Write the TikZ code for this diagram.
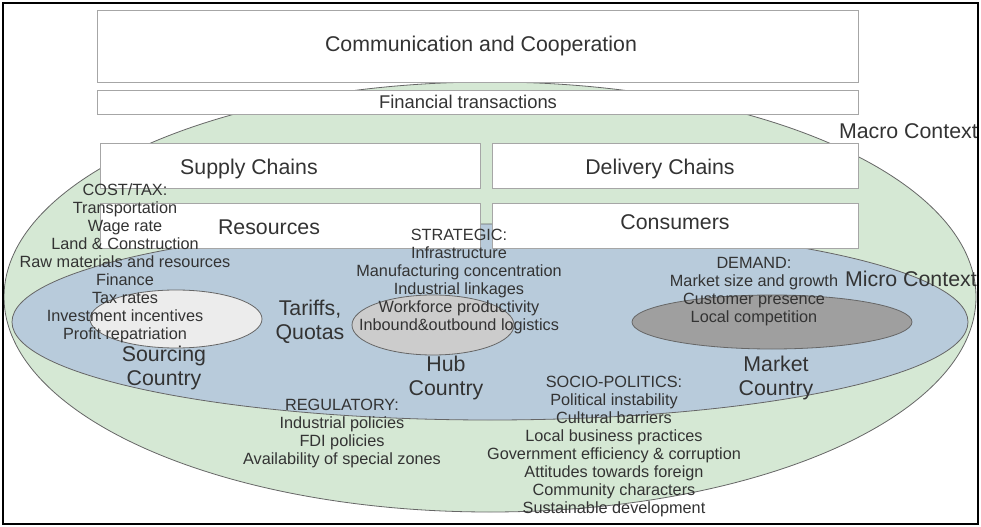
\documentclass[tikz,border=0pt]{standalone}
\usepackage{fontspec}
\setmainfont{Liberation Sans}
\definecolor{txt}{HTML}{333333}
\definecolor{grn}{HTML}{D5E8D4}
\definecolor{blu}{HTML}{B8CBDB}
\begin{document}
\begin{tikzpicture}[x=0.75pt,y=-0.75pt,
 box/.style={draw=gray!70,fill=white,line width=0.6pt,inner sep=0pt},
 ell/.style={draw=gray!80!black,line width=0.6pt},
 t/.style={text=txt,align=center,inner sep=0pt},
 lst/.style={t,font=\fontsize{12.2pt}{13.5pt}\selectfont},
 big/.style={t,font=\fontsize{16pt}{18pt}\selectfont}]
\useasboundingbox (0,0) rectangle (981,527);
\fill[white] (0,0) rectangle (981,527);
\draw[ell,fill=grn] (490,297) ellipse [x radius=486,y radius=215];
\draw[ell,fill=blu] (490,322) ellipse [x radius=478,y radius=98];
\draw[ell,fill=gray!15] (176,319) ellipse [x radius=86,y radius=29];
\draw[ell,fill=gray!40] (433,325) ellipse [x radius=81,y radius=30];
\draw[ell,fill=gray!75] (772,322) ellipse [x radius=140,y radius=27];
\node[box,minimum width=570.75pt,minimum height=54pt] (cc) at (477.5,46) {};
\node[big] (cct) at (481,46) {Communication and Cooperation};
\node[box,minimum width=570.75pt,minimum height=18pt] (ft) at (477.5,102) {};
\node[lst,font=\fontsize{13.8pt}{16pt}\selectfont] (ftt) at (468,102) {Financial transactions};
\node[box,minimum width=285pt,minimum height=33.75pt] (sc) at (290,165.5) {};
\node[big] (sct) at (249,169) {Supply Chains};
\node[box,minimum width=274.5pt,minimum height=33.75pt] (dc) at (675,165.5) {};
\node[big] (dct) at (660,169) {Delivery Chains};
\node[box,minimum width=285pt,minimum height=33.75pt] (rs) at (290,225.5) {};
\node[big] (rst) at (269,227) {Resources};
\node[box,minimum width=274.5pt,minimum height=33.75pt] (cs) at (675,225.5) {};
\node[big] (cst) at (675,222) {Consumers};
\node[big,anchor=east] (mac) at (978,131) {Macro Context};
\node[big,anchor=east] (mic) at (977,279) {Micro Context};
\node[lst,anchor=north] (cost) at (125,183) {COST/TAX:\\Transportation\\Wage rate\\Land \& Construction\\Raw materials and resources\\Finance\\Tax rates\\Investment incentives\\Profit repatriation};
\node[big] (tq) at (310,322) {Tariffs,\\Quotas};
\node[lst,anchor=north] (str) at (459,229) {STRATEGIC:\\Infrastructure\\Manufacturing concentration\\Industrial linkages\\Workforce productivity\\Inbound\&outbound logistics};
\node[lst,anchor=north] (dem) at (754,257) {DEMAND:\\Market size and growth\\Customer presence\\Local competition};
\node[big] (src) at (164,368) {Sourcing\\Country};
\node[big] (hub) at (446,378) {Hub\\Country};
\node[big] (mkt) at (776,378) {Market\\Country};
\node[lst,anchor=north] (reg) at (342,399) {REGULATORY:\\Industrial policies\\FDI policies\\Availability of special zones};
\node[lst,anchor=north] (soc) at (614,376) {SOCIO-POLITICS:\\Political instability\\Cultural barriers\\Local business practices\\Government efficiency \& corruption\\Attitudes towards foreign\\Community characters\\Sustainable development};
\draw[line width=1.6pt] (3,3) rectangle (978,524);
\end{tikzpicture}
\end{document}
